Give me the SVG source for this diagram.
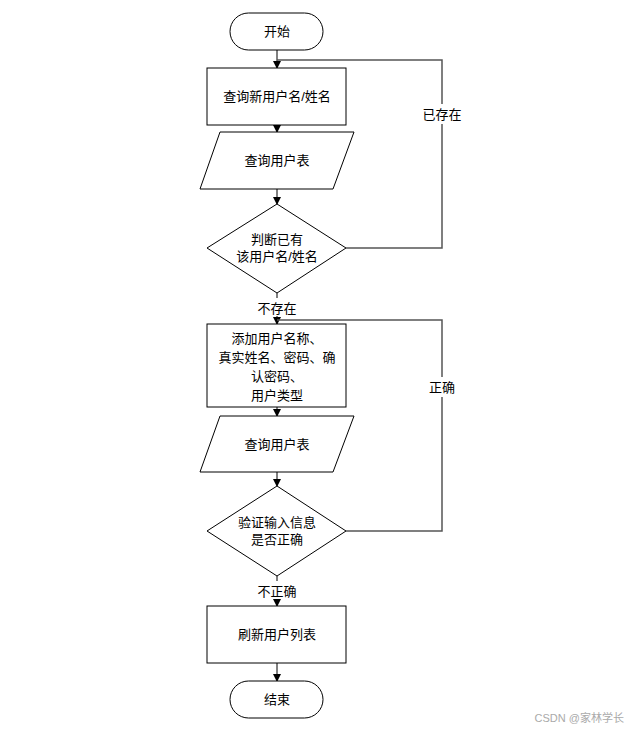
<svg xmlns="http://www.w3.org/2000/svg" width="630" height="730" viewBox="0 0 630 730">
<style>
.s{fill:#fff;stroke:#000;stroke-width:1}
.t{font-family:"Liberation Sans","Noto Sans CJK SC",sans-serif;font-size:13px;fill:#000;text-anchor:middle}
.c{fill:none;stroke:#000;stroke-width:1}
.l{fill:none;stroke:#555;stroke-width:1.5}
</style>
<defs><marker id="a" markerWidth="8" markerHeight="8" refX="7" refY="4" orient="auto" markerUnits="userSpaceOnUse"><path d="M0,0 L8,4 L0,8 Z" fill="#000"/></marker></defs>
<rect width="630" height="730" fill="#fff"/>
<g id="connectors">
<path class="c" d="M277,50 V68" marker-end="url(#a)"/>
<path class="c" d="M277,125 V132" marker-end="url(#a)"/>
<path class="c" d="M277,189 V204" marker-end="url(#a)"/>
<path class="l" d="M346,248 H442 V60 H277"/>
<path class="c" d="M277,293 V324" marker-end="url(#a)"/>
<path class="c" d="M277,407 V416" marker-end="url(#a)"/>
<path class="c" d="M277,472 V486" marker-end="url(#a)"/>
<path class="l" d="M346,531 H442 V320 H277"/>
<path class="c" d="M277,576 V606" marker-end="url(#a)"/>
<path class="c" d="M277,663 V681" marker-end="url(#a)"/>
<rect x="420" y="104" width="44" height="20" fill="#fff"/>
<text class="t" x="442" y="119">已存在</text>
<rect x="253" y="298" width="48" height="18" fill="#fff"/>
<text class="t" x="277" y="313">不存在</text>
<rect x="426" y="377" width="32" height="20" fill="#fff"/>
<text class="t" x="442" y="392">正确</text>
<rect x="253" y="581" width="48" height="18" fill="#fff"/>
<text class="t" x="277" y="596">不正确</text>
</g>
<g id="start"><rect class="s" x="230" y="13" width="93" height="37" rx="18.5"/><text class="t" x="277" y="36">开始</text></g>
<g id="query1"><rect class="s" x="207" y="68" width="139" height="57"/><text class="t" x="277" y="101">查询新用户名/姓名</text></g>
<g id="table1"><polygon class="s" points="220,132 354,132 333,189 200,189"/><text class="t" x="277" y="165">查询用户表</text></g>
<g id="check1"><polygon class="s" points="277,204 346,248 277,293 207,248"/><text class="t" x="277" y="244">判断已有</text><text class="t" x="277" y="261">该用户名/姓名</text></g>
<g id="add"><rect class="s" x="207" y="324" width="139" height="83"/><text class="t" x="277" y="343">添加用户名称、</text><text class="t" x="277" y="362">真实姓名、密码、确</text><text class="t" x="277" y="381">认密码、</text><text class="t" x="277" y="400">用户类型</text></g>
<g id="table2"><polygon class="s" points="220,416 354,416 333,472 200,472"/><text class="t" x="277" y="449">查询用户表</text></g>
<g id="check2"><polygon class="s" points="277,486 346,531 277,576 207,531"/><text class="t" x="277" y="527">验证输入信息</text><text class="t" x="277" y="544">是否正确</text></g>
<g id="refresh"><rect class="s" x="207" y="606" width="139" height="57"/><text class="t" x="277" y="639">刷新用户列表</text></g>
<g id="end"><rect class="s" x="230" y="681" width="93" height="37" rx="18.5"/><text class="t" x="277" y="704">结束</text></g>
<text x="624" y="722" style="font-family:'Liberation Sans','Noto Sans CJK SC',sans-serif;font-size:11px;fill:#aaa;text-anchor:end">CSDN @家林学长</text>
</svg>
